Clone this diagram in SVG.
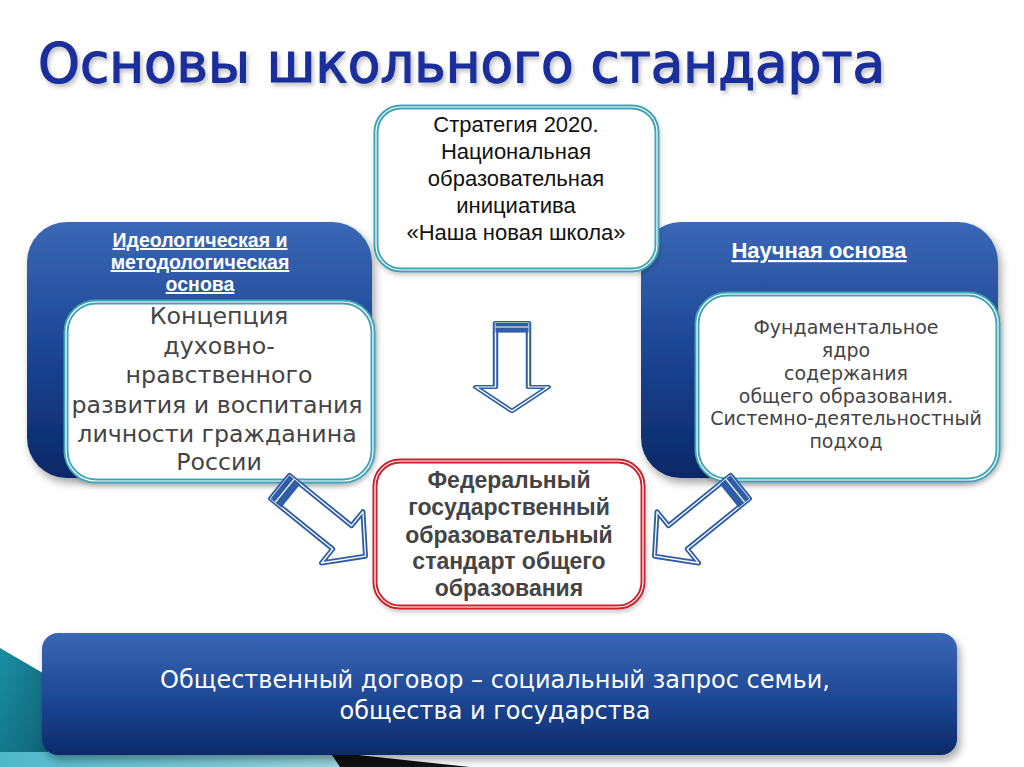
<svg xmlns="http://www.w3.org/2000/svg" width="1024" height="767" viewBox="0 0 1024 767">
<defs>
  <linearGradient id="blueGrad" x1="0" y1="0" x2="0" y2="1">
    <stop offset="0" stop-color="#3b68b6"/>
    <stop offset="0.5" stop-color="#1c4594"/>
    <stop offset="1" stop-color="#0a2766"/>
  </linearGradient>
  <linearGradient id="bottomGrad" x1="0" y1="0" x2="0" y2="1">
    <stop offset="0" stop-color="#3a67b5"/>
    <stop offset="0.6" stop-color="#1b4390"/>
    <stop offset="1" stop-color="#0c2a68"/>
  </linearGradient>
  <linearGradient id="tealGrad" x1="0" y1="0" x2="1" y2="1">
    <stop offset="0" stop-color="#1b8fa3"/>
    <stop offset="1" stop-color="#0e5f72"/>
  </linearGradient>
  <linearGradient id="tealStrip" x1="0" y1="0" x2="1" y2="0">
    <stop offset="0" stop-color="#4fb7c9"/>
    <stop offset="1" stop-color="#9fd8e2"/>
  </linearGradient>
  <filter id="shadow" x="-10%" y="-10%" width="125%" height="130%">
    <feDropShadow dx="3" dy="5" stdDeviation="4" flood-color="#000" flood-opacity="0.35"/>
  </filter>
  <filter id="soft" x="-10%" y="-10%" width="125%" height="130%">
    <feDropShadow dx="1" dy="3" stdDeviation="2" flood-color="#000" flood-opacity="0.2"/>
  </filter>
  <filter id="tshadow" x="-5%" y="-20%" width="110%" height="150%">
    <feDropShadow dx="2" dy="3" stdDeviation="2" flood-color="#000" flood-opacity="0.25"/>
  </filter>
  <path id="arrowH" d="M0,-15 L80,-15 L80,-33 L110,0 L80,33 L80,15 L0,15 Z"/>
</defs>
<style>
  .title { font-family: "DejaVu Sans Condensed", "DejaVu Sans", sans-serif; font-size: 56px; fill: #1a2f9c; stroke: #1a2f9c; stroke-width: 1.2; filter: url(#tshadow); }
  .blue { fill: url(#blueGrad); filter: url(#shadow); }
  .wbox { fill: #ffffff; stroke: #3ea3b7; stroke-width: 5; filter: url(#soft); }
  .wline { fill: none; stroke: #ffffff; stroke-width: 1.2; }
  .rbox { fill: #ffffff; stroke: #c9222d; stroke-width: 5; filter: url(#soft); }
  .hdr { font-family: "Liberation Sans", Arial, sans-serif; font-weight: bold; font-size: 19.5px; fill: #ffffff; text-anchor: middle; text-decoration: underline; }
  .hdr2 { font-family: "Liberation Sans", Arial, sans-serif; font-weight: bold; font-size: 22px; fill: #ffffff; text-anchor: middle; text-decoration: underline; }
  .t1 { font-family: "Liberation Sans", Arial, sans-serif; font-size: 22px; fill: #111111; text-anchor: middle; }
  .t2 { font-family: "DejaVu Sans", sans-serif; font-size: 23.7px; fill: #444444; text-anchor: middle; }
  .t3 { font-family: "DejaVu Sans", sans-serif; font-size: 19px; fill: #444444; text-anchor: middle; }
  .t4 { font-family: "Liberation Sans", Arial, sans-serif; font-weight: bold; font-size: 23px; fill: #444444; text-anchor: middle; }
  .t5 { font-family: "DejaVu Sans", sans-serif; font-size: 24px; fill: #ffffff; text-anchor: middle; }
  .arr { fill: #ffffff; stroke: #2f5da6; stroke-width: 5; stroke-linejoin: round; }
  .arrIn { fill: none; stroke: #ffffff; stroke-width: 1.3; stroke-linejoin: round; }
  .band { fill: #2f5da6; }
</style>
<rect width="1024" height="767" fill="#ffffff"/>

<!-- corner decoration -->
<g id="decor">
  <polygon points="0,648 48,676 48,767 0,767" fill="url(#tealGrad)"/>
  <polygon points="0,752 360,752 360,767 0,767" fill="url(#tealStrip)"/>
  <polygon points="330,752 470,767 340,767" fill="#111111"/>
</g>

<text class="title" x="38" y="82" textLength="847" lengthAdjust="spacingAndGlyphs">Основы школьного стандарта</text>

<g id="left-node">
  <rect class="blue" x="27" y="222" width="345" height="256" rx="40"/>
  <text class="hdr" x="200" y="247">Идеологическая и</text>
  <text class="hdr" x="200" y="269">методологическая</text>
  <text class="hdr" x="200" y="291">основа</text>
  <rect class="wbox" x="66" y="302" width="307" height="179" rx="30"/>
  <rect class="wline" x="66" y="302" width="307" height="179" rx="30"/>
  <text class="t2" x="219" y="324">Концепция</text>
  <text class="t2" x="219" y="354">духовно-</text>
  <text class="t2" x="219" y="383">нравственного</text>
  <text class="t2" x="217" y="413">развития и воспитания</text>
  <text class="t2" x="217" y="442">личности гражданина</text>
  <text class="t2" x="219" y="470">России</text>
</g>

<g id="right-node">
  <rect class="blue" x="641" y="222" width="357" height="256" rx="40"/>
  <text class="hdr2" x="819" y="258">Научная основа</text>
  <rect class="wbox" x="697" y="294" width="301" height="186" rx="30"/>
  <rect class="wline" x="697" y="294" width="301" height="186" rx="30"/>
  <text class="t3" x="846" y="334">Фундаментальное</text>
  <text class="t3" x="846" y="357">ядро</text>
  <text class="t3" x="846" y="380">содержания</text>
  <text class="t3" x="846" y="403">общего образования.</text>
  <text class="t3" x="846" y="425">Системно-деятельностный</text>
  <text class="t3" x="846" y="448">подход</text>
</g>

<g id="top-node">
  <rect class="wbox" x="376" y="107" width="281" height="163" rx="25"/>
  <rect class="wline" x="376" y="107" width="281" height="163" rx="25"/>
  <text class="t1" x="516" y="132">Стратегия 2020.</text>
  <text class="t1" x="516" y="159">Национальная</text>
  <text class="t1" x="516" y="186">образовательная</text>
  <text class="t1" x="516" y="213">инициатива</text>
  <text class="t1" x="516" y="240">«Наша новая школа»</text>
</g>

<g id="center-node">
  <rect class="rbox" x="375" y="461" width="268" height="146" rx="25"/>
  <rect class="wline" x="375" y="461" width="268" height="146" rx="25"/>
  <text class="t4" x="509" y="488">Федеральный</text>
  <text class="t4" x="509" y="515">государственный</text>
  <text class="t4" x="509" y="543">образовательный</text>
  <text class="t4" x="509" y="569">стандарт общего</text>
  <text class="t4" x="509" y="596">образования</text>
</g>

<g id="bottom-node">
  <rect x="42" y="633" width="915" height="122" rx="16" fill="url(#bottomGrad)" filter="url(#shadow)"/>
  <text class="t5" x="495" y="688">Общественный договор – социальный запрос семьи,</text>
  <text class="t5" x="495" y="719">общества и государства</text>
</g>

<g id="connectors">
  <g transform="translate(512,323) rotate(90) scale(0.8,1.1)">
    <use href="#arrowH" class="arr"/>
    <use href="#arrowH" class="arrIn"/>
    <rect class="band" x="0" y="-15" width="12" height="30"/>
    <line x1="5" y1="-15" x2="5" y2="15" stroke="#ffffff" stroke-width="1.3"/>
  </g>
  <g transform="translate(280,487) rotate(39)">
    <use href="#arrowH" class="arr"/>
    <use href="#arrowH" class="arrIn"/>
    <rect class="band" x="0" y="-15" width="14" height="30"/>
    <line x1="6" y1="-15" x2="6" y2="15" stroke="#ffffff" stroke-width="1.3"/>
  </g>
  <g transform="translate(740,487) rotate(141)">
    <use href="#arrowH" class="arr"/>
    <use href="#arrowH" class="arrIn"/>
    <rect class="band" x="0" y="-15" width="14" height="30"/>
    <line x1="6" y1="-15" x2="6" y2="15" stroke="#ffffff" stroke-width="1.3"/>
  </g>
</g>
</svg>
